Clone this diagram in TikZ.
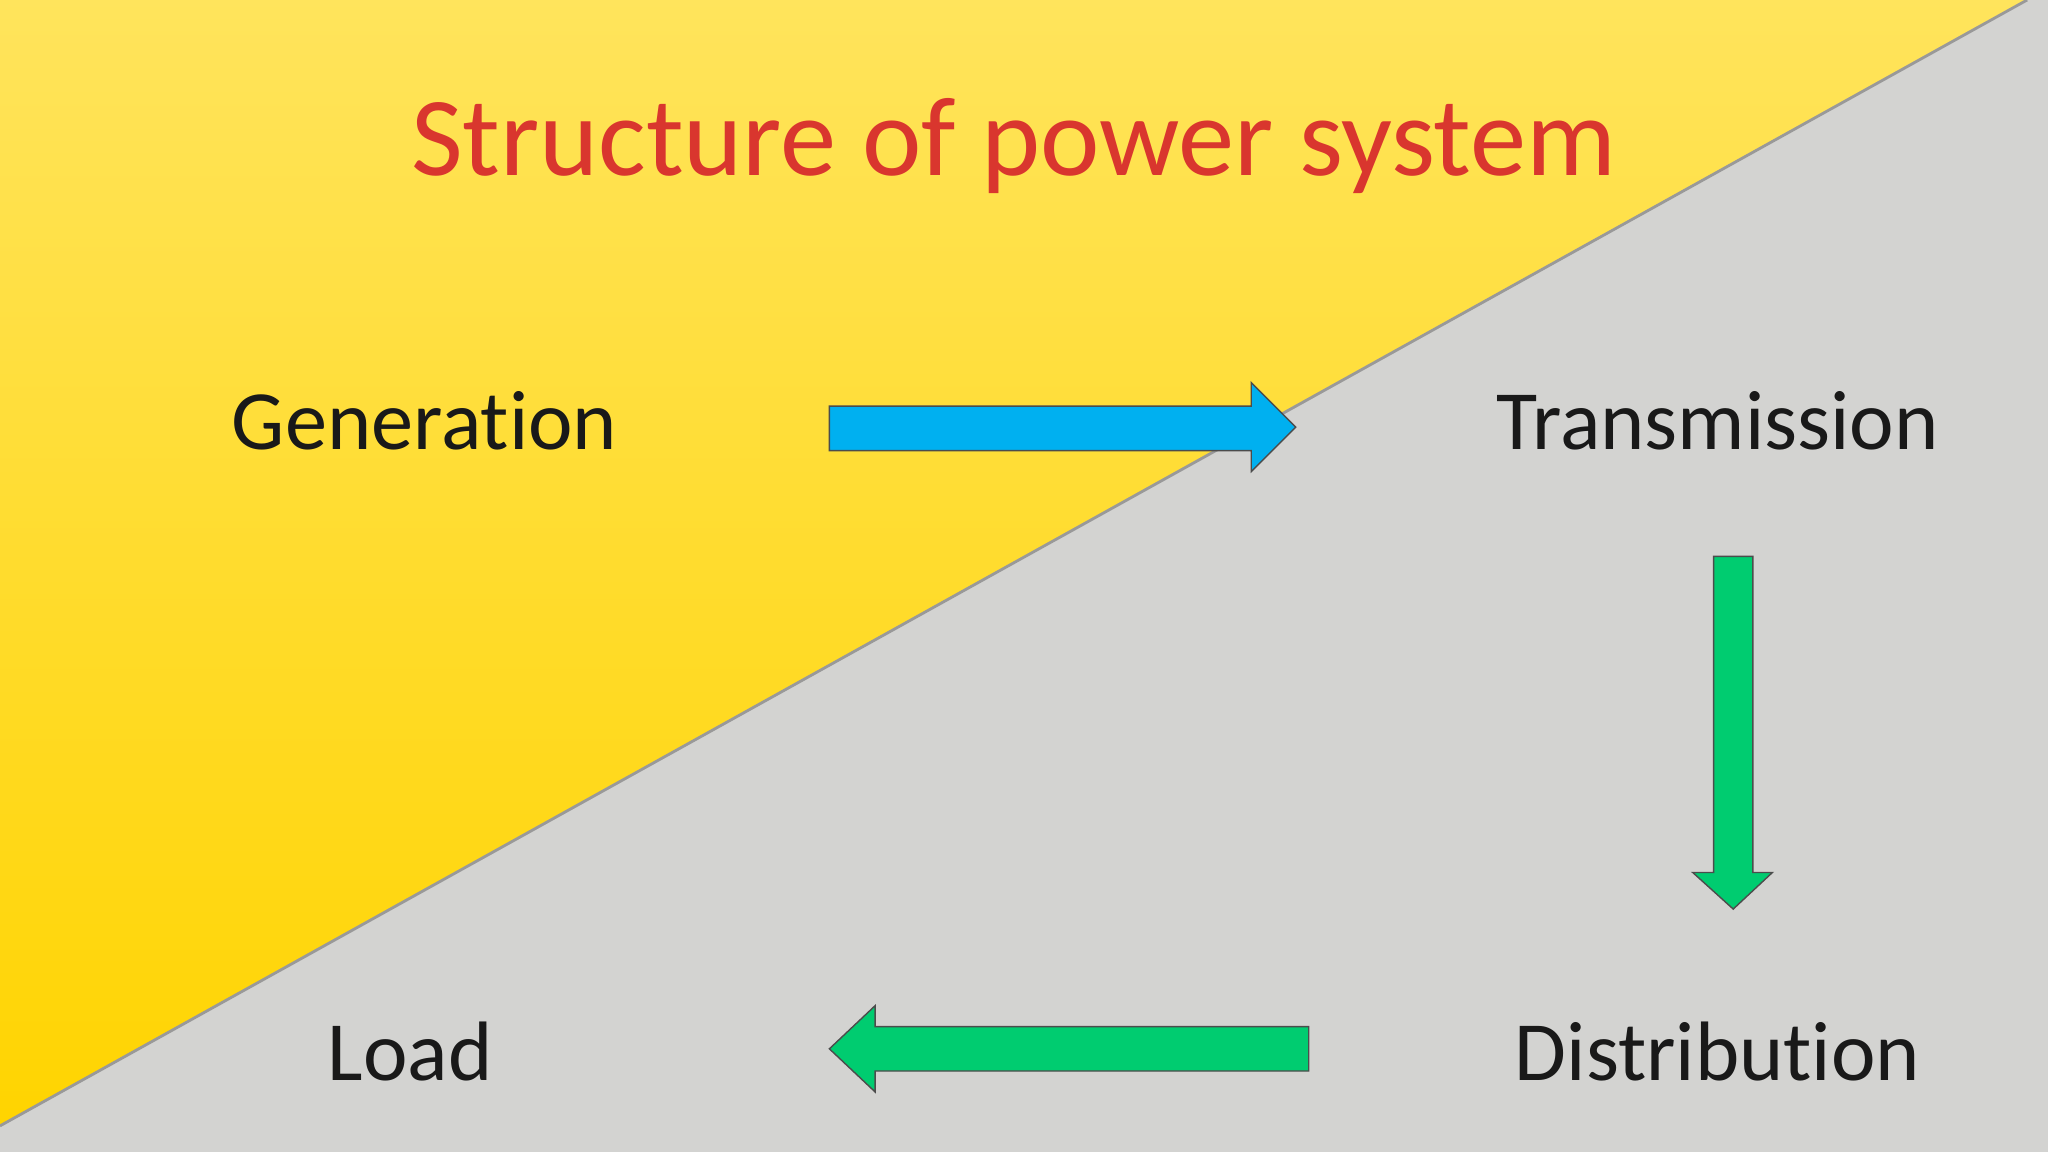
\documentclass[tikz,border=0pt]{standalone}
\usepackage{fontspec}
\setmainfont{Carlito}[Ligatures=NoCommon]
\definecolor{ylw1}{HTML}{FFE45C}
\definecolor{ylw2}{HTML}{FFD400}
\definecolor{conc}{HTML}{D3D3D1}
\definecolor{ttl}{HTML}{D9362E}
\definecolor{arblue}{HTML}{00B0F0}
\definecolor{argreen}{HTML}{00CC70}
\tikzset{lbl/.style={font=\fontsize{24}{28}\selectfont, text=black!90, inner sep=0pt},
arrowshape/.style={draw=black!70, line width=0.4pt}}
\begin{document}
\begin{tikzpicture}[x=0.01306cm,y=-0.01306cm]
\useasboundingbox (0,0) rectangle (1568,882);
\fill[conc] (0,0) rectangle (1568,882);
\shade[top color=ylw1, bottom color=ylw2] (0,0) -- (1552,0) -- (0,862) -- cycle;
\draw[black!40, line width=0.8pt] (1552,0) -- (0,862);
\node[font=\fontsize{32}{38}\selectfont, text=ttl, inner sep=0pt] (title) at (776,112) {Structure of power system};
\node[lbl] (gen) at (325,322) {Generation};
\node[lbl] (tra) at (1315,322) {Transmission};
\node[lbl] (load) at (314,805) {Load};
\node[lbl] (dist) at (1315,805) {Distribution};
\filldraw[arrowshape, fill=arblue] (635,311) -- (958,311) -- (958,293) -- (992,327) -- (958,361) -- (958,345) -- (635,345) -- cycle;
\filldraw[arrowshape, fill=argreen] (1312,426) -- (1342,426) -- (1342,668) -- (1357,668) -- (1327,696) -- (1296,668) -- (1312,668) -- cycle;
\filldraw[arrowshape, fill=argreen] (1002,786) -- (670,786) -- (670,770) -- (635,803) -- (670,836) -- (670,820) -- (1002,820) -- cycle;
\end{tikzpicture}
\end{document}
